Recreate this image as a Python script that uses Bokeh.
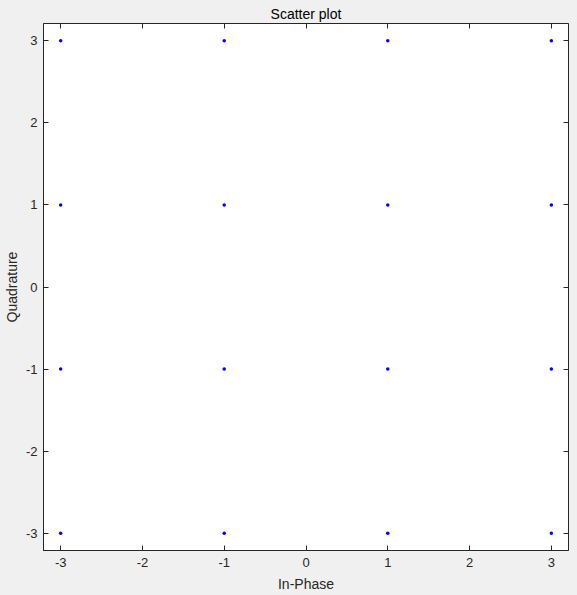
from bokeh.plotting import figure
from bokeh.models import LinearAxis, FixedTicker, Range1d
from bokeh.embed import file_html
from bokeh.resources import INLINE

# 16-QAM constellation points
in_phase = [-3, -3, -3, -3, -1, -1, -1, -1, 1, 1, 1, 1, 3, 3, 3, 3]
quadrature = [3, 1, -1, -3, 3, 1, -1, -3, 3, 1, -1, -3, 3, 1, -1, -3]
tick_values = [-3, -2, -1, 0, 1, 2, 3]
tick_labels = ["-3", "-2", "-1", "0", "1", "2", "3"]
axis_limit = 3.21

FONT = "Liberation Sans"
DARK = "#262626"

p = figure(frame_width=525, frame_height=527,
           x_range=Range1d(-axis_limit, axis_limit),
           y_range=Range1d(-axis_limit, axis_limit),
           output_backend="svg", toolbar_location=None,
           title="Scatter plot",
           min_border_left=30, min_border_right=1,
           min_border_top=23, min_border_bottom=0)
p.background_fill_color = "white"
p.border_fill_color = "#f0f0f0"
p.outline_line_color = DARK
p.outline_line_width = 1
p.grid.visible = False

p.title.align = "center"
p.title.text_font = FONT
p.title.text_font_size = "14px"
p.title.text_font_style = "normal"
p.title.text_color = "black"
p.title.standoff = 4

overrides = {v: l for v, l in zip(tick_values, tick_labels)}

def style_axis(ax, labels=True):
    ax.ticker = FixedTicker(ticks=tick_values)
    ax.major_tick_in = 5
    ax.major_tick_out = 0
    ax.minor_tick_line_color = None
    ax.major_tick_line_color = DARK
    ax.axis_line_color = DARK
    if labels:
        ax.major_label_overrides = overrides
        ax.major_label_text_font = FONT
        ax.major_label_text_font_size = "13px"
        ax.major_label_text_color = DARK
        ax.axis_label_text_font = FONT
        ax.axis_label_text_font_size = "14px"
        ax.axis_label_text_font_style = "normal"
        ax.axis_label_text_color = DARK
    else:
        ax.major_label_text_font_size = "0px"
        ax.major_label_text_color = None
        ax.major_label_standoff = 0
        ax.axis_label_standoff = 0

style_axis(p.xaxis[0])
style_axis(p.yaxis[0])
p.xaxis[0].axis_label = "In-Phase"
p.yaxis[0].axis_label = "Quadrature"
p.xaxis[0].major_label_standoff = 7
p.yaxis[0].major_label_standoff = 6
p.xaxis[0].axis_label_standoff = 6
p.yaxis[0].axis_label_standoff = 3

top_ax = LinearAxis(fixed_location=axis_limit)
right_ax = LinearAxis(fixed_location=axis_limit)
style_axis(top_ax, labels=False)
style_axis(right_ax, labels=False)
p.add_layout(top_ax, "above")
p.add_layout(right_ax, "right")

p.scatter(in_phase, quadrature, marker="circle", size=3.5, color="blue", line_width=0)

html = file_html(p, INLINE)
html = html.replace("<body>", '<body style="background-color:#f0f0f0;">')
open("out.html", "w").write(html)
